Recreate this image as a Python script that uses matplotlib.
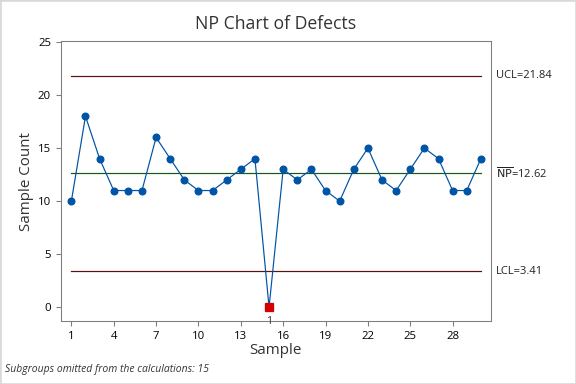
import numpy as np
import matplotlib.pyplot as plt
from matplotlib.patches import Rectangle

plt.rcParams['font.family'] = ['Open Sans', 'DejaVu Sans']

samples = np.arange(1, 31)
counts = [10, 18, 14, 11, 11, 11, 16, 14, 12, 11, 11, 12, 13, 14, 0,
          13, 12, 13, 11, 10, 13, 15, 12, 11, 13, 15, 14, 11, 11, 14]
ucl = 21.84
center = 12.62
lcl = 3.41
flagged = [15]

fig = plt.figure(figsize=(6, 4), dpi=96)
fig.patches.append(Rectangle((0, 0), 1, 1, transform=fig.transFigure,
                             fill=False, edgecolor="#d9d9d9", linewidth=2))
ax = fig.add_axes([0.106, 0.164, 0.746, 0.728])

blue = "#0054a6"
ax.plot(samples, counts, color=blue, lw=0.9, marker="o", ms=5, zorder=3)
for s in flagged:
    ax.plot(s, counts[s - 1], marker="s", ms=6, color="#d40000", zorder=4, ls="")
    ax.text(s, counts[s - 1] - 0.8, "1", ha="center", va="top", fontsize=8, color="#333333")

ax.plot([1, 30], [ucl, ucl], color="#5e1010", lw=0.9)
ax.plot([1, 30], [lcl, lcl], color="#5e1010", lw=0.9)
ax.plot([1, 30], [center, center], color="#145a14", lw=0.9)

ax.set_xlim(0.27, 30.7)
ax.set_ylim(-1.3, 25.05)
ax.set_xticks(np.arange(1, 31, 3))
ax.set_yticks(np.arange(0, 26, 5))
ax.tick_params(labelsize=8.5, color="#7f7f7f", length=4, labelcolor="black")
for sp in ax.spines.values():
    sp.set_color("#7f7f7f")

tr = ax.get_yaxis_transform()
ax.text(1.013, ucl, f"UCL={ucl:.2f}", transform=tr, va="center", fontsize=8.3, color="#222222")
ax.text(1.013, center, r"$\overline{\mathrm{NP}}$" + f"={center:.2f}", transform=tr, va="center",
        fontsize=8.3, color="#222222")
ax.text(1.013, lcl, f"LCL={lcl:.2f}", transform=tr, va="center", fontsize=8.3, color="#222222")

ax.set_title("NP Chart of Defects", fontsize=13.2, color="#333333", pad=9, fontweight="medium")
ax.set_xlabel("Sample", fontsize=11.3, color="#333333", labelpad=1, fontweight="medium")
ax.set_ylabel("Sample Count", fontsize=11.3, color="#333333", labelpad=3, fontweight="medium")

fig.text(0.009, 0.03, "Subgroups omitted from the calculations: 15", fontsize=7.8,
         style="italic", color="#333333")

fig.savefig("out.png", dpi=96)
